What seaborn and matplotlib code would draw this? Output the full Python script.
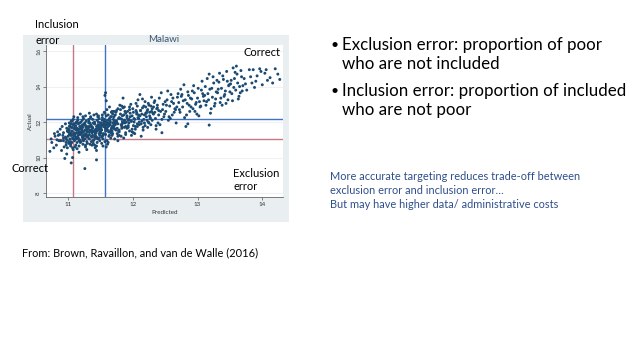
import matplotlib
matplotlib.use("Agg")
import matplotlib.pyplot as plt
import seaborn as sns
import pandas as pd
from matplotlib.patches import Rectangle

# ---------------- data ----------------
predicted = [
    10.72, 10.75, 10.78, 10.80, 10.82, 10.84, 10.86, 10.88, 10.90, 10.93,
    10.74, 10.79, 10.83, 10.87, 10.91, 10.94, 10.96, 10.98, 10.99, 10.97,
    11.00, 11.01, 11.02, 11.03, 11.04, 11.05, 11.06, 11.07, 11.08, 11.09,
    11.00, 11.02, 11.04, 11.06, 11.08, 11.10, 11.03, 11.05, 11.07, 11.09,
    10.98, 11.01, 11.03, 11.06, 11.09, 11.11, 11.12, 11.13, 11.14, 11.15,
    11.12, 11.14, 11.16, 11.18, 11.20, 11.22, 11.24, 11.26, 11.28, 11.30,
    11.13, 11.15, 11.17, 11.19, 11.21, 11.23, 11.25, 11.27, 11.29, 11.11,
    11.16, 11.18, 11.20, 11.22, 11.24, 11.26, 11.28, 11.17, 11.21, 11.25,
    11.19, 11.23, 11.27, 11.14, 11.29, 11.15, 11.19, 11.23, 11.27, 11.13,
    11.31, 11.33, 11.35, 11.37, 11.39, 11.41, 11.43, 11.45, 11.47, 11.49,
    11.32, 11.34, 11.36, 11.38, 11.40, 11.42, 11.44, 11.46, 11.48, 11.50,
    11.31, 11.35, 11.39, 11.43, 11.47, 11.33, 11.37, 11.41, 11.45, 11.49,
    11.34, 11.38, 11.42, 11.46, 11.36, 11.40, 11.44, 11.48, 11.32, 11.44,
    11.51, 11.53, 11.55, 11.57, 11.59, 11.61, 11.63, 11.65, 11.67, 11.69,
    11.52, 11.54, 11.56, 11.58, 11.60, 11.62, 11.64, 11.66, 11.68, 11.70,
    11.51, 11.55, 11.59, 11.63, 11.67, 11.53, 11.57, 11.61, 11.65, 11.69,
    11.54, 11.58, 11.62, 11.66, 11.70, 11.56, 11.60, 11.64, 11.68, 11.52,
    11.71, 11.73, 11.75, 11.77, 11.79, 11.81, 11.83, 11.85, 11.87, 11.89,
    11.72, 11.74, 11.76, 11.78, 11.80, 11.82, 11.84, 11.86, 11.88, 11.90,
    11.71, 11.75, 11.79, 11.83, 11.87, 11.73, 11.77, 11.81, 11.85, 11.89,
    11.91, 11.93, 11.95, 11.97, 11.99, 12.01, 12.03, 12.05, 12.07, 12.09,
    11.92, 11.94, 11.96, 11.98, 12.00, 12.02, 12.04, 12.06, 12.08, 12.10,
    11.93, 11.97, 12.01, 12.05, 12.09, 11.95, 11.99, 12.03, 12.07, 11.91,
    12.11, 12.13, 12.15, 12.17, 12.19, 12.21, 12.23, 12.25, 12.27, 12.29,
    12.12, 12.14, 12.16, 12.18, 12.20, 12.22, 12.24, 12.26, 12.28, 12.30,
    12.13, 12.17, 12.21, 12.25, 12.29, 12.15, 12.19, 12.23, 12.27, 12.11,
    12.31, 12.33, 12.35, 12.37, 12.39, 12.41, 12.43, 12.45, 12.47, 12.49,
    12.32, 12.36, 12.40, 12.44, 12.48, 12.34, 12.38, 12.42, 12.46, 12.50,
    12.51, 12.53, 12.55, 12.57, 12.59, 12.61, 12.63, 12.65, 12.67, 12.69,
    12.52, 12.56, 12.60, 12.64, 12.68, 12.54, 12.58, 12.62, 12.66, 12.70,
    12.71, 12.73, 12.75, 12.77, 12.79, 12.81, 12.83, 12.85, 12.87, 12.89,
    12.72, 12.76, 12.80, 12.84, 12.88, 12.74, 12.78, 12.82, 12.86, 12.90,
    12.91, 12.93, 12.95, 12.97, 12.99, 13.01, 13.03, 13.05, 13.07, 13.09,
    12.92, 12.96, 13.00, 13.04, 13.08, 12.94, 12.98, 13.02, 13.06, 13.10,
    13.11, 13.13, 13.15, 13.17, 13.19, 13.21, 13.23, 13.25, 13.27, 13.29,
    13.12, 13.16, 13.20, 13.24, 13.28, 13.14, 13.18, 13.22, 13.26, 13.30,
    13.31, 13.33, 13.35, 13.37, 13.39, 13.41, 13.43, 13.45, 13.47, 13.49,
    13.32, 13.36, 13.40, 13.44, 13.48, 13.34, 13.38, 13.42, 13.46, 13.50,
    13.51, 13.53, 13.55, 13.57, 13.59, 13.61, 13.63, 13.65, 13.67, 13.69,
    13.52, 13.56, 13.60, 13.64, 13.68, 13.54, 13.58, 13.62, 13.66, 13.70,
    13.72, 13.76, 13.80, 13.84, 13.88, 13.92, 13.96, 14.00, 14.04, 14.08,
    13.74, 13.82, 13.90, 13.98, 14.06, 14.12, 14.16, 14.20, 14.24, 14.27,
    11.26, 11.44, 13.18, 11.58, 12.45, 13.86, 10.95, 11.05, 12.85, 11.85,
    10.96, 11.00, 11.04, 11.08, 11.12, 11.16, 11.20, 11.24, 11.28, 11.32,
    11.36, 11.40, 11.44, 11.48, 11.52, 11.56, 11.60, 11.64, 11.68, 11.72,
    10.98, 11.02, 11.06, 11.10, 11.14, 11.18, 11.22, 11.26, 11.30, 11.34,
    11.38, 11.42, 11.46, 11.50, 11.54, 11.58, 11.62, 11.66, 11.70, 11.74,
    11.11, 11.15, 11.19, 11.23, 11.27, 11.31, 11.35, 11.39, 11.43, 11.47,
    11.51, 11.55, 11.59, 11.63, 11.67, 11.71, 11.75, 11.79, 11.83, 11.87,
    11.04, 11.09, 11.14, 11.19, 11.24, 11.29, 11.34, 11.39, 11.44, 11.49,
    11.54, 11.59, 11.64, 11.69, 11.74, 11.79, 11.84, 11.89, 11.94, 11.99,
    10.92, 10.97, 11.02, 11.07, 11.12, 11.17, 11.22, 11.27, 11.32, 11.37,
    11.42, 11.47, 11.52, 11.57, 11.62, 11.67, 11.72, 11.77, 11.82, 11.87,
    10.93, 10.99, 11.05, 11.11, 11.17, 11.23, 11.29, 11.35, 11.41, 11.47,
    11.53, 11.59, 11.65, 11.71, 11.77, 11.83, 11.89, 11.95, 12.01, 12.07,
    11.01, 11.06, 11.11, 11.16, 11.21, 11.26, 11.31, 11.36, 11.41, 11.46,
    11.51, 11.56, 11.61, 11.66, 11.71, 11.76, 11.81, 11.86, 11.91, 11.96,
    11.03, 11.08, 11.13, 11.18, 11.23, 11.28, 11.33, 11.38, 11.43, 11.48,
    11.53, 11.58, 11.63, 11.68, 11.73, 11.78, 11.83, 11.88, 11.93, 11.98,
    12.02, 12.06, 12.10, 12.14, 12.18, 12.22, 12.26, 12.30, 12.34, 12.38,
    12.04, 12.08, 12.12, 12.16, 12.20, 12.24, 12.28, 12.32, 12.36, 12.40,
    10.85, 10.89, 10.93, 10.97, 11.01, 11.05, 11.09, 11.13, 11.17, 11.21,
    11.25, 11.29, 11.33, 11.37, 11.41, 11.45, 11.49, 11.53, 11.57, 11.61,
]
actual = [
    10.35, 10.85, 10.55, 11.20, 10.70, 11.45, 10.95, 11.60, 10.40, 11.10,
    11.05, 11.35, 11.00, 11.30, 11.75, 10.60, 11.90, 10.20, 11.50, 10.85,
    11.20, 10.90, 11.55, 11.80, 10.65, 11.35, 12.05, 11.10, 10.45, 11.65,
    11.45, 11.95, 10.75, 11.25, 12.15, 10.95, 11.05, 11.70, 10.00, 12.30,
    11.00, 11.60, 11.40, 10.85, 11.90, 11.30, 10.70, 12.00, 11.15, 11.55,
    11.80, 10.50, 11.25, 11.95, 10.90, 11.50, 12.20, 11.05, 11.70, 10.80,
    11.40, 12.10, 10.95, 11.60, 11.35, 10.75, 11.90, 12.35, 11.15, 10.60,
    11.10, 11.75, 12.00, 11.20, 10.95, 11.55, 12.05, 10.30, 11.45, 11.30,
    10.85, 11.85, 10.70, 11.65, 11.50, 12.25, 12.45, 11.00, 11.80, 11.05,
    11.60, 11.05, 12.30, 11.40, 10.80, 11.90, 11.20, 12.10, 11.55, 10.95,
    12.05, 11.75, 10.90, 11.65, 12.40, 11.30, 10.65, 11.85, 12.20, 11.45,
    11.25, 11.50, 11.95, 11.10, 11.70, 12.50, 11.15, 12.00, 10.85, 11.35,
    10.75, 12.15, 11.55, 12.30, 11.80, 11.00, 12.45, 11.60, 11.95, 10.40,
    11.40, 12.10, 11.75, 10.90, 12.35, 11.55, 11.20, 12.00, 11.65, 12.45,
    11.85, 11.05, 12.55, 11.30, 12.70, 11.95, 12.20, 11.10, 12.60, 11.80,
    11.60, 11.95, 13.20, 11.45, 12.30, 12.25, 13.50, 10.75, 12.05, 11.35,
    10.65, 11.70, 12.40, 11.55, 12.15, 12.05, 10.95, 12.85, 11.50, 11.15,
    12.30, 11.60, 12.65, 11.90, 11.25, 12.45, 11.75, 12.80, 12.10, 11.40,
    11.95, 12.55, 11.35, 12.20, 12.95, 11.85, 12.35, 11.10, 12.60, 12.00,
    11.80, 12.05, 11.55, 12.15, 11.70, 12.40, 10.95, 12.70, 11.95, 12.50,
    12.25, 11.70, 12.85, 12.05, 11.45, 12.55, 12.15, 13.05, 11.90, 12.40,
    12.60, 11.95, 12.30, 11.25, 12.75, 12.00, 11.60, 12.45, 13.25, 11.85,
    12.10, 13.00, 11.80, 12.65, 12.20, 11.50, 12.35, 11.35, 12.90, 11.65,
    12.35, 11.90, 12.80, 12.15, 13.15, 12.50, 11.70, 12.95, 12.25, 13.40,
    12.65, 12.05, 11.55, 12.40, 12.85, 12.10, 13.05, 12.55, 11.85, 12.75,
    11.20, 12.90, 12.30, 11.95, 12.60, 13.30, 11.80, 12.70, 12.20, 13.55,
    12.50, 13.10, 12.20, 12.75, 11.95, 13.35, 12.60, 12.15, 13.00, 12.45,
    12.85, 11.60, 12.40, 13.65, 12.30, 13.20, 12.95, 11.85, 12.70, 13.15,
    12.60, 13.25, 12.10, 12.90, 13.55, 12.40, 13.05, 12.75, 11.95, 13.40,
    12.95, 12.30, 13.15, 12.55, 12.85, 13.75, 12.20, 13.35, 12.70, 13.60,
    13.10, 12.55, 13.45, 12.85, 14.10, 13.25, 12.40, 13.70, 12.95, 13.35,
    12.70, 13.55, 12.25, 13.05, 12.60, 13.85, 13.20, 11.75, 13.50, 12.85,
    13.30, 12.75, 13.65, 13.00, 12.45, 13.90, 13.15, 12.90, 14.30, 13.45,
    13.75, 12.60, 13.35, 12.85, 13.60, 14.05, 13.10, 12.35, 13.80, 13.20,
    13.50, 12.95, 14.45, 13.25, 13.85, 12.75, 13.40, 14.20, 13.05, 13.70,
    14.00, 13.60, 12.50, 14.55, 13.30, 13.15, 14.70, 13.90, 12.90, 14.35,
    13.65, 14.25, 13.10, 13.90, 14.60, 13.45, 13.75, 14.85, 13.25, 14.10,
    13.85, 13.35, 14.40, 13.05, 14.05, 14.75, 12.95, 13.55, 14.30, 13.70,
    14.15, 13.60, 15.05, 14.45, 13.80, 14.70, 13.30, 14.00, 14.90, 13.75,
    14.35, 13.95, 15.15, 13.45, 14.55, 13.20, 14.80, 14.20, 13.65, 14.05,
    14.45, 13.80, 14.95, 14.20, 13.95, 14.60, 15.00, 14.10, 14.75, 14.35,
    14.15, 14.55, 14.30, 14.85, 14.95, 14.50, 14.20, 15.00, 14.70, 14.40,
    9.38, 9.87, 11.83, 13.65, 11.40, 14.95, 9.95, 9.70, 11.90, 13.35,
    11.15, 11.50, 11.25, 11.85, 11.60, 11.35, 11.65, 11.45, 11.35, 11.70,
    11.20, 11.45, 11.75, 11.35, 11.55, 11.85, 11.65, 11.95, 11.75, 12.05,
    11.65, 11.30, 11.50, 11.20, 12.00, 11.00, 11.15, 11.85, 11.45, 11.95,
    11.70, 11.40, 11.05, 11.95, 11.25, 11.50, 11.75, 11.40, 11.65, 11.55,
    11.05, 11.55, 11.40, 11.70, 11.25, 11.15, 11.85, 11.50, 11.40, 12.00,
    11.70, 11.35, 12.00, 11.80, 11.45, 11.65, 11.95, 12.25, 11.85, 12.10,
    10.90, 11.40, 10.85, 11.30, 11.20, 10.90, 11.55, 10.95, 11.15, 11.25,
    11.30, 11.85, 11.25, 11.95, 12.05, 11.45, 12.00, 11.75, 12.15, 11.60,
    11.25, 10.70, 11.75, 10.55, 11.95, 10.65, 12.10, 10.60, 12.15, 10.70,
    10.55, 12.35, 10.80, 12.50, 10.85, 12.55, 11.05, 12.75, 11.20, 12.85,
    10.95, 10.55, 12.05, 11.75, 11.60, 12.30, 10.45, 12.25, 10.70, 11.80,
    12.40, 10.60, 11.85, 12.60, 11.20, 12.90, 11.30, 12.70, 11.40, 11.75,
    11.50, 11.70, 11.60, 11.90, 11.80, 11.95, 11.75, 11.55, 11.90, 11.65,
    11.95, 12.15, 11.90, 12.30, 12.00, 11.65, 12.20, 12.40, 12.35, 12.50,
    11.35, 11.05, 11.55, 11.40, 11.10, 11.55, 11.30, 11.25, 11.60, 11.10,
    11.20, 11.60, 11.45, 11.25, 11.85, 11.50, 11.65, 11.95, 11.80, 12.05,
    12.20, 12.55, 12.00, 12.45, 11.95, 12.60, 12.35, 12.10, 12.55, 12.80,
    11.75, 12.25, 12.65, 11.70, 12.50, 12.00, 12.90, 12.45, 11.80, 12.65,
    11.25, 10.95, 11.40, 11.10, 10.80, 11.90, 11.35, 11.15, 11.45, 11.60,
    11.25, 11.60, 11.45, 11.70, 11.15, 11.50, 11.80, 11.85, 11.70, 12.10,
]

x_ticks = [11, 12, 13, 14]
y_ticks = [8, 10, 12, 14, 16]
poverty_line = 11.07        # red lines (vertical and horizontal)
predicted_cutoff = 11.57    # blue vertical line
actual_cutoff = 12.2        # blue horizontal line

title_text = "Malawi"
x_label = "Predicted"
y_label = "Actual"

bullets = [
    ("Exclusion error: proportion of poor", "who are not included"),
    ("Inclusion error: proportion of included", "who are not poor"),
]
note_lines = [
    "More accurate targeting reduces trade-off between",
    "exclusion error and inclusion error\u2026",
    "But may have higher data/ administrative costs",
]
source_text = "From: Brown, Ravaillon, and van de Walle (2016)"

# ---------------- figure ----------------
sns.set_theme(style="white")
plt.rcParams["font.family"] = ["Lato", "DejaVu Sans"]

W, H = 638, 359
fig = plt.figure(figsize=(W / 100, H / 100), dpi=100)
fig.patch.set_facecolor("white")

def fx(px):
    return px / W

def fy(py):
    return 1 - py / H

# grey Stata-like graph region
fig.add_artist(Rectangle((fx(23), fy(222)), fx(289) - fx(23), fy(35) - fy(222),
                         transform=fig.transFigure, facecolor="#E9EEF0",
                         edgecolor="none", zorder=0))

ax = fig.add_axes([fx(46), fy(197), fx(283) - fx(46), fy(45) - fy(197)])
ax.set_facecolor("white")

df = pd.DataFrame({"Predicted": predicted, "Actual": actual})

for yv in y_ticks:
    ax.axhline(yv, color="#EEF2F3", lw=0.8, zorder=0)

ax.axvline(poverty_line, color="#C57A86", lw=1.0, zorder=1)
ax.axhline(poverty_line, color="#C57A86", lw=1.0, zorder=1)
ax.axvline(predicted_cutoff, color="#3F72C8", lw=1.0, zorder=1)
ax.axhline(actual_cutoff, color="#3F72C8", lw=1.0, zorder=1)

sns.scatterplot(data=df, x="Predicted", y="Actual", ax=ax, s=4.5,
                color="#1B4A72", edgecolor="none", linewidth=0, zorder=3,
                legend=False)

ax.set_xlim(10.66, 14.32)
ax.set_ylim(7.78, 16.34)
ax.set_xticks(x_ticks)
ax.set_yticks(y_ticks)
ax.set_xticklabels([str(t) for t in x_ticks], fontsize=4.5, color="#333333")
ax.set_yticklabels([str(t) for t in y_ticks], fontsize=4.5, color="#333333",
                   rotation=90, va="center")
ax.tick_params(axis="both", length=2, width=0.5, pad=1.5, color="#555555",
               bottom=True, left=True)
ax.set_xlabel(x_label, fontsize=4.5, color="#333333", labelpad=2)
ax.set_ylabel(y_label, fontsize=4.5, color="#333333", labelpad=2)
for side in ["top", "right"]:
    ax.spines[side].set_visible(False)
for side in ["left", "bottom"]:
    ax.spines[side].set_color("#666666")
    ax.spines[side].set_linewidth(0.6)

fig.text(fx(164), fy(40), title_text, fontsize=7, color="#3D5670",
         ha="center", va="center")

# region annotations
ann = dict(fontsize=8, color="black", family=["Lato", "DejaVu Sans"])
fig.text(fx(35), fy(25), "Inclusion", ha="left", va="center", **ann)
fig.text(fx(35), fy(40), "error", ha="left", va="center", **ann)
fig.text(fx(243), fy(52), "Correct", ha="left", va="center", **ann)
fig.text(fx(12), fy(168), "Correct", ha="left", va="center", **ann)
fig.text(fx(233), fy(173), "Exclusion", ha="left", va="center", **ann)
fig.text(fx(233), fy(187), "error", ha="left", va="center", **ann)

# right-hand bullets
b_y = [45, 91]
for (l1, l2), y0 in zip(bullets, b_y):
    fig.text(fx(330), fy(y0), "\u2022", fontsize=10, color="black",
             ha="left", va="center")
    fig.text(fx(342), fy(y0), l1, fontsize=12.2, color="black",
             ha="left", va="center")
    fig.text(fx(342), fy(y0 + 19), l2, fontsize=12.2, color="black",
             ha="left", va="center")

for i, line in enumerate(note_lines):
    fig.text(fx(330), fy(177 + 13.5 * i), line, fontsize=7.9, color="#2F4E8A",
             ha="left", va="center")

fig.text(fx(22), fy(253), source_text, fontsize=7.9, color="black",
         ha="left", va="center")

fig.savefig("out.png", dpi=100, facecolor="white")
